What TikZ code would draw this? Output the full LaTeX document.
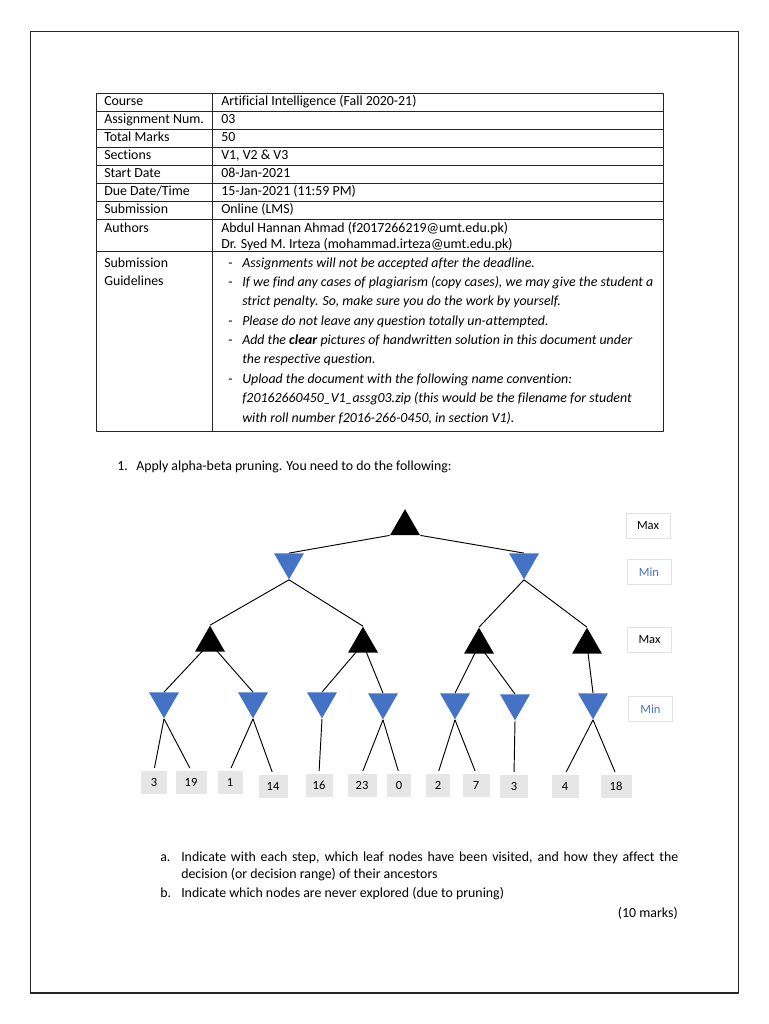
\documentclass[tikz,border=0pt]{standalone}
\usepackage{fontspec}
\setmainfont{Carlito}[Ligatures=NoCommon]
\usepackage{tikz}
\usetikzlibrary{shapes.geometric,backgrounds}
\definecolor{minblue}{HTML}{4472C4}
\definecolor{leafgray}{HTML}{E7E6E6}
\definecolor{tagline}{HTML}{E2E2E2}

\begin{document}
\begin{tikzpicture}[x=0.8pt, y=-0.8pt, line join=round,
    cell/.style={anchor=base west, inner sep=0pt, font=\fontsize{11.1}{13}\selectfont},
    rule/.style={line width=0.75pt, draw=black!85},
    maxtri/.style={regular polygon, regular polygon sides=3, minimum size=27.7pt, inner sep=0pt, fill=black},
    mintri/.style={maxtri, fill=minblue, shape border rotate=180},
    leaf/.style={fill=leafgray, minimum height=18.4pt, inner sep=0pt, font=\fontsize{10}{12}\selectfont},
    tag/.style={draw=tagline, line width=0.6pt, minimum width=35pt, minimum height=20pt, inner sep=0pt, font=\fontsize{10}{12}\selectfont},
    edge/.style={line width=0.75pt}]
    \useasboundingbox (0,0) rectangle (768,1024);
    % page border
    \draw[line width=1.1pt, black!85] (30.5,31.7) rectangle (738.5,993);

    % table grid
    \draw[rule] (96,93) rectangle (663,431);
    \draw[rule] (212,93) -- (212,431);
    \foreach \y in {111,129,147,165,183,201,219,251}
        \draw[rule] (96,\y) -- (663,\y);

    % left column
    \node[cell] (kcourse) at (104,106) {Course};
    \node[cell] (knum) at (104,124) {Assignment Num.};
    \node[cell] (kmarks) at (104,142) {Total Marks};
    \node[cell] (ksec) at (104,160) {Sections};
    \node[cell] (kstart) at (104,178) {Start Date};
    \node[cell] (kdue) at (104,196) {Due Date/Time};
    \node[cell] (ksub) at (104,214) {Submission};
    \node[cell] (kauth) at (104,232) {Authors};
    \node[cell] (kguide) at (104,267) {Submission};
    \node[cell] (kguide2) at (104,285) {Guidelines};

    % right column
    \node[cell] (vcourse) at (221,106) {Artificial Intelligence (Fall 2020-21)};
    \node[cell] (vnum) at (221,124) {03};
    \node[cell] (vmarks) at (221,142) {50};
    \node[cell] (vsec) at (221,160) {V1, V2 \& V3};
    \node[cell] (vstart) at (221,178) {08-Jan-2021};
    \node[cell] (vdue) at (221,196) {15-Jan-2021 (11:59 PM)};
    \node[cell] (vsub) at (221,214) {Online (LMS)};
    \node[cell] (vauth) at (221,232) {Abdul Hannan Ahmad (f2017266219@umt.edu.pk)};
    \node[cell] (vauth2) at (221,248) {Dr. Syed M. Irteza (mohammad.irteza@umt.edu.pk)};

    % guidelines
    \foreach \y in {267,286,325,344,383}
        \node[cell] at (228,\y) {-};
    \begin{scope}[cell/.append style={font=\fontsize{11.1}{13}\selectfont\itshape}]
        \node[cell] (g1) at (242,267) {Assignments will not be accepted after the deadline.};
        \node[cell] (g2) at (242,286) {If we find any cases of plagiarism (copy cases), we may give the student a};
        \node[cell] (g2b) at (242,305) {strict penalty. So, make sure you do the work by yourself.};
        \node[cell] (g3) at (242,325) {Please do not leave any question totally un-attempted.};
        \node[cell] (g4) at (242,344) {Add the \textbf{clear} pictures of handwritten solution in this document under};
        \node[cell] (g4b) at (242,363) {the respective question.};
        \node[cell] (g5) at (242,383) {Upload the document with the following name convention:};
        \node[cell] (g5b) at (242,402) {f20162660450\_V1\_assg03.zip (this would be the filename for student};
        \node[cell] (g5c) at (242,422) {with roll number f2016-266-0450, in section V1).};
    \end{scope}

    % question
    \node[cell] (qnum) at (117,470) {1.};
    \node[cell] (qtext) at (136,470) {Apply alpha-beta pruning. You need to do the following:};

    % game tree
    \node[maxtri] (root) at (405,526.5) {};
    \node[mintri] (mL) at (289,562) {};
    \node[mintri] (mR) at (524,562) {};
    \node[maxtri] (xa) at (210,643) {};
    \node[maxtri] (xb) at (363,644) {};
    \node[maxtri] (xc) at (479,645) {};
    \node[maxtri] (xd) at (587,645) {};
    \node[mintri] (na) at (164,701) {};
    \node[mintri] (nb) at (253,701) {};
    \node[mintri] (nc) at (322,701) {};
    \node[mintri] (nd) at (383,702) {};
    \node[mintri] (ne) at (455,702) {};
    \node[mintri] (nf) at (515,703) {};
    \node[mintri] (ng) at (593,702) {};

    % leaves
    \foreach \n/\x/\y/\w/\v in {1/154/782/26/3, 2/191/782/31/19, 3/230/782/25/1, 4/273/786/29/14,
        5/319/785/27/16, 6/362/785/29/23, 7/399/785/24/0, 8/438/785/24/2,
        9/476/785/27/7, 10/514/786/28/3, 11/565/786/27/4, 12/616/786/31/18}
        \node[leaf, minimum width=\w*0.8pt] (leaf\n) at (\x,\y) {\v};

    \begin{pgfonlayer}{background}
        \draw[edge] (root.corner 2) -- (mL.north);
        \draw[edge] (root.corner 3) -- (mR.north);
        \draw[edge] (mL.south) -- (xa.north);
        \draw[edge] (mL.south) -- (xb.north);
        \draw[edge] (mR.south) -- (xc.north);
        \draw[edge] (mR.south) -- (xd.north);
        \draw[edge] (xa.center) -- (na.north);
        \draw[edge] (xa.center) -- (nb.north);
        \draw[edge] (xb.center) -- (nc.north);
        \draw[edge] (xb.center) -- (nd.north);
        \draw[edge] (xc.center) -- (ne.north);
        \draw[edge] (xc.center) -- (nf.north);
        \draw[edge] (xd.center) -- (ng.north);
        % min nodes down to the leaves
        \foreach \p/\c in {na/1, na/2, nb/3, nb/4, nc/5, nd/6, nd/7, ne/8, ne/9, nf/10, ng/11, ng/12}
            \draw[edge, shorten >=2pt] (\p.south) -- (leaf\c.north);
    \end{pgfonlayer}

    % level tags
    \node[tag] (tmax1) at (648,525.5) {Max};
    \node[tag, text=minblue] (tmin1) at (649,572) {Min};
    \node[tag] (tmax2) at (649.5,639.5) {Max};
    \node[tag, text=minblue] (tmin2) at (650.5,709) {Min};

    % tasks
    \node[cell] (ta) at (160,861) {a.};
    \node[cell] (tatext) at (181,861) {\makebox[397.6pt][s]{Indicate with each step, which leaf nodes have been visited, and how they affect the}};
    \node[cell] (tatext2) at (181,878) {decision (or decision range) of their ancestors};
    \node[cell] (tb) at (160,897) {b.};
    \node[cell] (tbtext) at (181,897) {Indicate which nodes are never explored (due to pruning)};
    \node[cell, anchor=base east] (marks) at (678,917) {(10 marks)};
\end{tikzpicture}
\end{document}
